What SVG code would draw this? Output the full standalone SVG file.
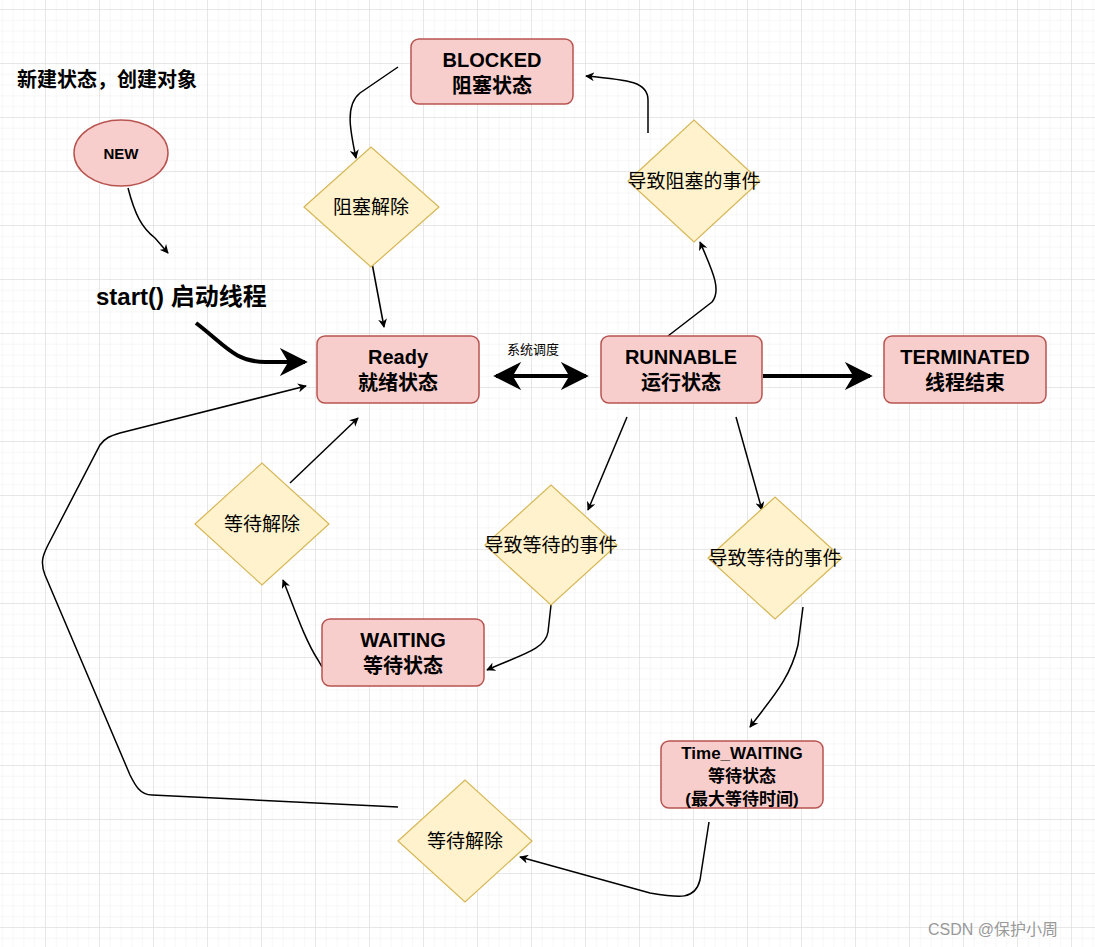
<svg xmlns="http://www.w3.org/2000/svg" width="1095" height="947" viewBox="0 0 1095 947">
<defs>
<pattern id="minor" x="45" y="9" width="10.8" height="10.8" patternUnits="userSpaceOnUse"><path d="M0,0H10.8M0,0V10.8" stroke="#efefef" stroke-width="1" fill="none"/></pattern>
<pattern id="major" x="45" y="9" width="54" height="54" patternUnits="userSpaceOnUse"><path d="M0,0H54M0,0V54" stroke="#d8d8d8" stroke-width="1" fill="none"/></pattern>
<marker id="ar" viewBox="0 0 10 10" refX="9" refY="5" markerWidth="9" markerHeight="9" markerUnits="userSpaceOnUse" orient="auto"><path d="M0,0L10,5L0,10L3,5Z" fill="#000"/></marker>
<marker id="arb" viewBox="0 0 10 10" refX="9" refY="5" markerWidth="7" markerHeight="7" orient="auto-start-reverse"><path d="M0,0L10,5L0,10L3,5Z" fill="#000"/></marker>
</defs>
<style>
.st{fill:#f8cecc;stroke:#b85450;stroke-width:1.5}
.dm{fill:#fff2cc;stroke:#d6b656;stroke-width:1.2}
.b{font-family:"Liberation Sans","Noto Sans CJK SC",sans-serif;font-weight:bold;font-size:20px;text-anchor:middle;fill:#000}
.n{font-family:"Liberation Sans","Noto Sans CJK SC",sans-serif;font-size:19px;text-anchor:middle;fill:#000}
.c path{fill:none;stroke:#000;stroke-width:1.5}
</style>
<rect width="1095" height="947" fill="#fff"/>
<rect width="1095" height="947" fill="url(#minor)"/>
<rect width="1095" height="947" fill="url(#major)"/>
<text x="17" y="87" style="font-family:'Liberation Sans','Noto Sans CJK SC',sans-serif;font-weight:bold;font-size:20px">新建状态，创建对象</text>
<text x="96" y="305" style="font-family:'Liberation Sans','Noto Sans CJK SC',sans-serif;font-weight:bold;font-size:24px">start()  启动线程</text>
<text x="533" y="354" style="font-family:'Liberation Sans','Noto Sans CJK SC',sans-serif;font-size:13px;text-anchor:middle">系统调度</text>
<g class="c">
<path d="M128,188 C135,215 142,228 155,238 L168,253" marker-end="url(#ar)"/>
<path d="M196,323 C225,345 235,362 265,362 L305,362" style="stroke-width:4" marker-end="url(#arb)"/>
<path d="M398,67 L360,93 C345,105 350,130 356,158" marker-end="url(#ar)"/>
<path d="M372,263 L384,327" marker-end="url(#ar)"/>
<path d="M668,336 L712,302 C722,290 712,270 700,242" marker-end="url(#ar)"/>
<path d="M648,133 L648,100 C648,82 630,80 586,76" marker-end="url(#ar)"/>
<path d="M496,376 L586,376" style="stroke-width:4" marker-start="url(#arb)" marker-end="url(#arb)"/>
<path d="M763,376 L870,376" style="stroke-width:4" marker-end="url(#arb)"/>
<path d="M627,417 L588,510" marker-end="url(#ar)"/>
<path d="M736,417 L762,510" marker-end="url(#ar)"/>
<path d="M551,605 L548,632 C545,650 520,655 487,670" marker-end="url(#ar)"/>
<path d="M322,667 L318,660 C305,640 295,610 283,580" marker-end="url(#ar)"/>
<path d="M290,483 L358,418" marker-end="url(#ar)"/>
<path d="M803,607 L798,645 C790,680 770,700 750,727" marker-end="url(#ar)"/>
<path d="M709,822 L700,880 C695,900 680,898 650,893 L520,857" marker-end="url(#ar)"/>
<path d="M398,807 L152,795 C140,795 135,785 130,775 L45,575 C40,562 43,555 48,545 L100,445 C105,438 110,436 120,433 L306,386" marker-end="url(#ar)"/>
</g>
<g id="new"><ellipse cx="121" cy="153" rx="47" ry="33" class="st"/><text x="121" y="159" class="b" style="font-size:15px">NEW</text></g>
<g id="blocked"><rect x="411" y="39" width="162" height="65" rx="8" class="st"/><text x="492" y="67" class="b">BLOCKED</text><text x="492" y="93" class="b">阻塞状态</text></g>
<g id="d-unblock"><polygon points="304,207 371,147 439,207 371,267" class="dm"/><text x="371" y="214" class="n">阻塞解除</text></g>
<g id="d-block"><polygon points="628,181 694,120 760,181 694,242" class="dm"/><text x="694" y="188" class="n">导致阻塞的事件</text></g>
<g id="ready"><rect x="317" y="336" width="162" height="67" rx="8" class="st"/><text x="398" y="364" class="b">Ready</text><text x="398" y="390" class="b">就绪状态</text></g>
<g id="runnable"><rect x="601" y="336" width="161" height="67" rx="8" class="st"/><text x="681" y="364" class="b">RUNNABLE</text><text x="681" y="390" class="b">运行状态</text></g>
<g id="terminated"><rect x="884" y="336" width="162" height="67" rx="8" class="st"/><text x="965" y="364" class="b">TERMINATED</text><text x="965" y="390" class="b">线程结束</text></g>
<g id="d-wait1"><polygon points="195,524 262,463 329,524 262,585" class="dm"/><text x="262" y="531" class="n">等待解除</text></g>
<g id="d-ev1"><polygon points="485,545 551,485 617,545 551,605" class="dm"/><text x="551" y="552" class="n">导致等待的事件</text></g>
<g id="d-ev2"><polygon points="708,558 775,497 842,558 775,619" class="dm"/><text x="775" y="565" class="n">导致等待的事件</text></g>
<g id="waiting"><rect x="322" y="619" width="162" height="67" rx="8" class="st"/><text x="403" y="647" class="b">WAITING</text><text x="403" y="673" class="b">等待状态</text></g>
<g id="timewaiting"><rect x="661" y="741" width="162" height="67" rx="8" class="st"/><text x="742" y="759" class="b" style="font-size:17px">Time_WAITING</text><text x="742" y="782" class="b" style="font-size:17px">等待状态</text><text x="742" y="805" class="b" style="font-size:17px">(最大等待时间)</text></g>
<g id="d-wait2"><polygon points="398,841 465,780 532,841 465,902" class="dm"/><text x="465" y="848" class="n">等待解除</text></g>
<text x="928" y="935" style="font-family:'Liberation Sans','Noto Sans CJK SC',sans-serif;font-size:16px;fill:#999">CSDN @保护小周</text>
</svg>
